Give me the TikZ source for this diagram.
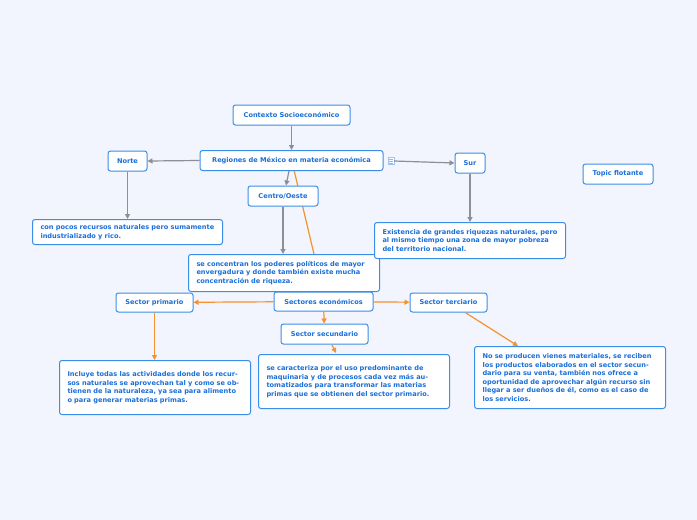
\documentclass[tikz,border=0pt]{standalone}
\usepackage{fontspec}
\setmainfont{DejaVu Sans}
\usetikzlibrary{arrows.meta}
\definecolor{bg}{HTML}{F2F5FD}
\definecolor{bd}{HTML}{3A8EEA}
\definecolor{tx}{HTML}{1A6FD8}
\definecolor{gr}{HTML}{8C8F96}
\definecolor{og}{HTML}{F5922F}
\tikzset{
 x=1pt,y=-1pt,
 box/.style={draw=bd,line width=1pt,fill=white,rounded corners=2.5pt,text=tx,font=\bfseries\fontsize{6.6}{8.6}\selectfont,inner sep=0pt},
 tbox/.style={box,align=left,inner xsep=8pt,inner ysep=5pt,anchor=north west},
 ga/.style={draw=gr,line width=1.2pt,-{Triangle[length=5pt,width=5pt]}},
 oa/.style={draw=og,line width=1.2pt,-{Triangle[length=5pt,width=5pt]}},
}
\newcommand{\bx}[5]{\node[box,minimum width=#4,minimum height=#5] (#1) at (#2,#3) {};}
\begin{document}
\begin{tikzpicture}
\fill[bg] (0,0) rectangle (697,520);
\useasboundingbox (0,0) rectangle (697,520);
% orange link behind
\draw[og,line width=1.2pt] (294,170) -- (323,292);
\node[box,minimum width=117,minimum height=20] (ctx) at (291.5,115) {Contexto Socioeconómico};
\node[box,minimum width=183,minimum height=20] (reg) at (291.5,160.5) {Regiones de México en materia económica};
\node[box,minimum width=39,minimum height=20] (nor) at (127.5,161) {Norte};
\node[box,minimum width=30,minimum height=20] (sur) at (470,163) {Sur};
\node[box,minimum width=70,minimum height=20] (top) at (618,174) {Topic flotante};
\node[box,minimum width=70,minimum height=20] (cen) at (283,196) {Centro/Oeste};
\node[tbox,text width=174] (tn) at (32,219) {con pocos recursos naturales pero sumamente industrializado y rico.};
\node[tbox,text width=175,minimum height=37] (tc) at (188,254) {se concentran los poderes políticos de mayor envergadura y donde también existe mucha concentración de riqueza.};
\node[tbox,text width=175,minimum height=36] (ts) at (374,222) {Existencia de grandes riquezas naturales, pero al mismo tiempo una zona de mayor pobreza del territorio nacional.};
\node[box,minimum width=99,minimum height=19] (sec) at (323.5,301.5) {Sectores económicos};
\node[box,minimum width=77,minimum height=19] (sp) at (154.5,302.5) {Sector primario};
\node[box,minimum width=77,minimum height=19] (st) at (448.5,302.5) {Sector terciario};
\node[box,minimum width=87,minimum height=20] (ss) at (324.5,334) {Sector secundario};
\node[tbox,text width=175,minimum height=54] (tp) at (59,360) {Incluye todas las actividades donde los recursos naturales se aprovechan tal y como se obtienen de la naturaleza, ya sea para alimento o para generar materias primas.};
\node[tbox,text width=175,minimum height=54] (tse) at (258,354) {se caracteriza por el uso predominante de maquinaria y de procesos cada vez más automatizados para transformar las materias primas que se obtienen del sector primario.};
\node[tbox,text width=175,minimum height=62] (tt) at (474,346) {No se producen vienes materiales, se reciben los productos elaborados en el sector secundario para su venta, también nos ofrece a oportunidad de aprovechar algún recurso sin llegar a ser dueños de él, como es el caso de los servicios.};
% icon
\node[draw=bd!50,fill=white,minimum width=6,minimum height=7,inner sep=0pt] (ic) at (391,161) {};
\draw[bd!60,line width=0.6pt] (389,159)--(393,159) (389,161)--(393,161) (389,163)--(393,163);
% grey arrows
\draw[ga] (ctx) -- (reg);
\draw[ga] (reg.west) -- (nor.east);
\draw[ga] (ic.east) -- (sur.west);
\draw[ga] (289,171) -- (cen.north-|286,0);
\draw[ga] (nor) -- (tn.north-|nor);
\draw[ga] (cen) -- (tc.north-|cen);
\draw[ga] (sur) -- (ts.north-|sur);
% orange arrows
\draw[oa] (sec) -- (sp);
\draw[oa] (sec) -- (st);
\draw[oa] (sec) -- (ss);
\draw[oa] (sp) -- (tp.north-|sp);
\draw[oa] (332,345) -- (336,353);
\draw[oa] (466,313) -- (518,346);
\end{tikzpicture}
\end{document}
